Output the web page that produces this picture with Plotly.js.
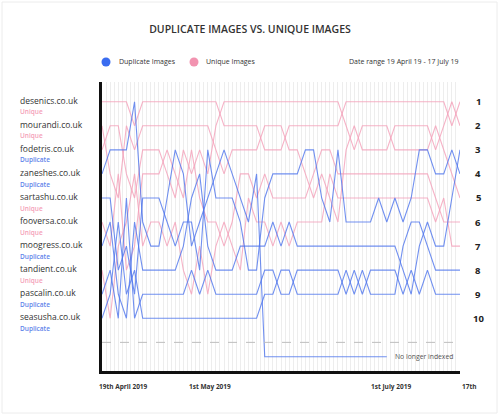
<!DOCTYPE html>
<html><head><meta charset="utf-8">
<script src="https://cdn.plot.ly/plotly-3.0.1.min.js"></script>
<style>html,body{margin:0;padding:0;background:#fff;}#chart{width:500px;height:416px;}</style>
</head><body><div id="chart"></div>
<script>
// Day offset from 19 April 2019
const dayOffset = [0,2,4,6,8,10,12,14,16,18,20,22,24,26,28,30,32,34,36,38,40,42,44,46,48,50,52,54,56,58,60,62,64,66,68,70,72,74,76,78,80,82,84,86,88];

const domains = ["desenics.co.uk","mourandi.co.uk","fodetris.co.uk","zaneshes.co.uk","sartashu.co.uk","fooversa.co.uk","moogress.co.uk","tandient.co.uk","pascalin.co.uk","seasusha.co.uk"];
const domainTypes = ["Unique","Unique","Duplicate","Duplicate","Unique","Unique","Duplicate","Unique","Duplicate","Duplicate"];
const rankLabels = ["1","2","3","4","5","6","7","8","9","10"];

// Rank per time point (11.6 = no longer indexed)
const desenics = [1,1,1,1,2,1,1,1,1,1, 1,1,1,1,1,2,2,2,2,2, 3,3,3,2,2,2,2,2,2,2, 1,1,1,1,1,1,1,1,1,1, 1,1,1,2,1];
const mourandi = [2,4,5,2,3,2,2,2,2,2, 2,2,2,2,3,4,3,3,3,3, 2,2,2,3,3,4,5,4,5,6, 3,2,3,3,3,3,2,2,2,2, 2,3,2,1,2];
const sartashu = [3,2,2,4,5,3,3,3,4,5, 3,4,3,4,2,1,1,1,1,1, 1,1,1,1,1,1,1,1,1,1, 2,3,2,2,2,2,3,3,3,3, 3,2,3,4,5];
const fooversa = [6,7,4,8,7,4,4,4,3,4, 5,3,5,6,6,7,6,4,4,5, 4,5,5,5,5,5,4,3,3,4, 4,4,4,4,4,4,4,4,4,4, 4,5,6,6,6];
const tandient = [8,10,7,6,4,7,6,6,7,6, 8,9,7,9,7,6,7,8,5,6, 6,7,6,7,6,6,6,6,4,5, 5,5,5,5,5,5,5,5,5,5, 5,6,5,7,7];
const fodetris = [4,3,3,3,1,6,7,7,5,3, 4,7,6,5,4,3,4,5,6,4, 11.6,11.6,11.6,11.6,11.6,11.6,11.6,11.6,11.6,11.6, 11.6,11.6,11.6,11.6,11.6,11.6,null,null,null,null, null,null,null,null,null];
const zaneshes = [5,5,8,7,9,5,5,5,6,7, 6,6,8,3,5,5,5,6,8,8, 5,4,4,4,4,3,3,5,6,3, 6,6,6,6,5,6,5,6,5,3, 3,4,4,3,4];
const moogress = [7,6,9,10,6,8,8,8,8,8, 7,5,4,7,8,8,8,7,7,7, 7,6,7,6,7,7,7,7,7,7, 7,7,7,7,7,7,7,8,9,7, 6,7,7,5,3];
const pascalin = [9,8,10,5,10,9,9,9,9,9, 9,8,9,8,9,9,9,9,9,9, 8,8,9,9,8,8,8,8,8,8, 9,8,9,8,8,8,8,9,8,9, 8,9,9,9,9];
const seasusha = [10,9,6,9,8,10,10,10,10,10, 10,10,10,10,10,10,10,10,10,10, 9,9,8,8,9,9,9,9,9,9, 8,9,8,9,9,9,9,7,6,6, 7,8,8,8,8];

const uniqueSeries = [desenics, mourandi, sartashu, fooversa, tandient];
const duplicateSeries = [fodetris, zaneshes, moogress, pascalin, seasusha];

const tickLabels = ["19th April 2019","1st May 2019","1st July 2019","17th"];
const tickDays = [-1.2, 20.8, 65.7, 88];

const FONT = "Open Sans";
const BLUE = "rgba(78,116,236,0.8)";
const PINK = "rgba(244,158,183,0.78)";
const X_MAX = 88;

const traces = [];
uniqueSeries.forEach(s => traces.push({x: dayOffset, y: s, type: 'scatter', mode: 'lines', line: {color: PINK, width: 1.1}, hoverinfo: 'skip'}));
duplicateSeries.forEach(s => traces.push({x: dayOffset, y: s, type: 'scatter', mode: 'lines', line: {color: BLUE, width: 1.1}, hoverinfo: 'skip', connectgaps: false}));

// pixel helpers for layout positions (plot area 102..460 x 82..371)
const px = X => (X - 102) / 358;
const py = Y => (371 - Y) / 289;

const annotations = [];
domains.forEach((d, i) => {
  annotations.push({xref: 'paper', yref: 'y', x: px(18), y: i + 1 - 0.07, text: d, showarrow: false, xanchor: 'left', yanchor: 'middle', font: {family: FONT, size: 8.5, color: '#333'}});
  const t = domainTypes[i];
  annotations.push({xref: 'paper', yref: 'y', x: px(18), y: i + 1 + 0.42, text: t, showarrow: false, xanchor: 'left', yanchor: 'middle', font: {family: FONT, size: 6.5, weight: 600, color: t === 'Unique' ? '#f4a0b8' : '#5f84ea'}});
});
rankLabels.forEach((r, i) => {
  annotations.push({xref: 'paper', yref: 'y', x: px(478), y: i + 1, text: r, showarrow: false, xanchor: 'center', yanchor: 'middle', font: {family: FONT, size: 9.5, weight: 700, color: '#222'}});
});
tickLabels.forEach((t, i) => {
  annotations.push({xref: 'paper', yref: 'paper', x: tickDays[i] / X_MAX, y: py(386), text: t, showarrow: false, xanchor: 'left', yanchor: 'middle', font: {family: FONT, size: 6.5, weight: 700, color: '#333'}});
});
annotations.push({xref: 'paper', yref: 'y', x: px(455), y: 11.6, text: 'No longer indexed', showarrow: false, xanchor: 'right', yanchor: 'middle', font: {family: FONT, size: 6.8, color: '#555'}});
annotations.push({xref: 'paper', yref: 'paper', x: px(117), y: py(61.5), text: 'Duplicate Images', showarrow: false, xanchor: 'left', yanchor: 'middle', font: {family: FONT, size: 7, color: '#333'}});
annotations.push({xref: 'paper', yref: 'paper', x: px(204), y: py(61.5), text: 'Unique Images', showarrow: false, xanchor: 'left', yanchor: 'middle', font: {family: FONT, size: 7, color: '#333'}});
annotations.push({xref: 'paper', yref: 'paper', x: px(461), y: py(61.5), text: 'Date range 19 April 19 - 17 July 19', showarrow: false, xanchor: 'right', yanchor: 'middle', font: {family: FONT, size: 7, color: '#333'}});

const shapes = [
  {type: 'line', xref: 'paper', yref: 'y', x0: 0, x1: 1, y0: 11, y1: 11, line: {color: '#bdbdbd', width: 1, dash: 'dash'}},
  {type: 'circle', xref: 'paper', yref: 'paper', xsizemode: 'pixel', ysizemode: 'pixel', xanchor: px(106), yanchor: py(62), x0: -4.5, x1: 4.5, y0: -4.5, y1: 4.5, fillcolor: '#3a6cf0', line: {width: 0}},
  {type: 'circle', xref: 'paper', yref: 'paper', xsizemode: 'pixel', ysizemode: 'pixel', xanchor: px(194), yanchor: py(62), x0: -4.5, x1: 4.5, y0: -4.5, y1: 4.5, fillcolor: '#f293b0', line: {width: 0}},
  {type: 'rect', xref: 'paper', yref: 'paper', x0: px(2), x1: px(497), y0: py(413), y1: py(2), line: {color: '#ececec', width: 1}, layer: 'below'}
];

const layout = {
  width: 500, height: 416,
  margin: {l: 102, r: 40, t: 82, b: 45, pad: 0},
  paper_bgcolor: '#fff', plot_bgcolor: '#fff',
  showlegend: false,
  title: {text: 'DUPLICATE IMAGES VS. UNIQUE IMAGES', x: 0.5, xanchor: 'center', xref: 'container', y: 1 - 29/416, yref: 'container', yanchor: 'middle', font: {family: FONT, size: 10.5, weight: 600, color: '#333'}},
  xaxis: {range: [0, X_MAX], showgrid: true, dtick: 1, gridcolor: '#ededed', gridwidth: 1, showticklabels: false, ticks: '', zeroline: false, showline: true, linecolor: '#111', linewidth: 3, fixedrange: true},
  yaxis: {range: [12.19, 0.18], showgrid: false, showticklabels: false, ticks: '', zeroline: false, showline: true, linecolor: '#111', linewidth: 3, fixedrange: true},
  annotations: annotations,
  shapes: shapes,
  hovermode: false
};

Plotly.newPlot('chart', traces, layout, {staticPlot: true, displayModeBar: false});
</script>
</body></html>
